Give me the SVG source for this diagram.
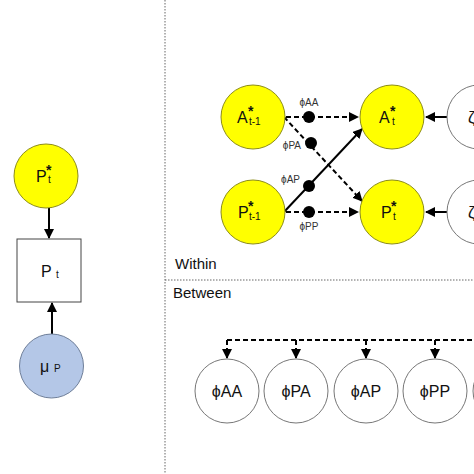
<svg xmlns="http://www.w3.org/2000/svg" width="474" height="474" viewBox="0 0 474 474">
<defs>
<marker id="ah" viewBox="0 0 10 10" refX="9" refY="5" markerWidth="5" markerHeight="5" orient="auto"><path d="M0,0 L10,5 L0,10 z" fill="#000"/></marker>
</defs>
<style>
text{font-family:"Liberation Sans",Arial,sans-serif;fill:#111}
.y{fill:#ffff00;stroke:#8c8c1a;stroke-width:1}
.w{fill:#fff;stroke:#777;stroke-width:1}
.sep{stroke:#666;stroke-width:1;stroke-dasharray:1.5,1.5;fill:none}
.sol{stroke:#000;stroke-width:2;fill:none}
.dsh{stroke:#000;stroke-width:2;fill:none;stroke-dasharray:5,3}
.big{font-size:16px}
.sm{font-size:10px}
.st{font-size:14px;font-weight:bold}
.lab{font-size:10px;fill:#333}
</style>
<rect width="474" height="474" fill="#fff"/>
<g id="separators">
<line class="sep" x1="165" y1="0" x2="165" y2="474"/>
<line class="sep" x1="165" y1="280" x2="474" y2="280"/>
</g>
<text x="175" y="269" style="font-size:15px">Within</text>
<text x="173" y="298" style="font-size:15px">Between</text>
<g id="connectors">
<line class="sol" x1="49" y1="208" x2="49" y2="238" marker-end="url(#ah)"/>
<line class="sol" x1="52" y1="334" x2="52" y2="303" marker-end="url(#ah)"/>
<line class="dsh" x1="286" y1="117" x2="358" y2="117" marker-end="url(#ah)"/>
<line class="dsh" x1="284" y1="117" x2="362" y2="201" marker-end="url(#ah)"/>
<line class="sol" x1="284" y1="212" x2="362" y2="129" marker-end="url(#ah)"/>
<line class="dsh" x1="286" y1="212" x2="358" y2="212" marker-end="url(#ah)"/>
<line class="sol" x1="447" y1="117" x2="426" y2="117" marker-end="url(#ah)"/>
<line class="sol" x1="447" y1="212" x2="426" y2="212" marker-end="url(#ah)"/>
<polyline class="dsh" points="227,340 474,340"/>
<line class="dsh" x1="227" y1="340" x2="227" y2="358" marker-end="url(#ah)"/>
<line class="dsh" x1="296" y1="340" x2="296" y2="358" marker-end="url(#ah)"/>
<line class="dsh" x1="366" y1="340" x2="366" y2="358" marker-end="url(#ah)"/>
<line class="dsh" x1="435" y1="340" x2="435" y2="358" marker-end="url(#ah)"/>
<circle cx="309" cy="117" r="6" fill="#000"/>
<circle cx="311" cy="143" r="6" fill="#000"/>
<circle cx="309" cy="186" r="6" fill="#000"/>
<circle cx="309" cy="212" r="6" fill="#000"/>
<text class="lab" x="309" y="106" text-anchor="middle">ϕAA</text>
<text class="lab" x="301" y="149" text-anchor="end">ϕPA</text>
<text class="lab" x="300" y="183" text-anchor="end">ϕAP</text>
<text class="lab" x="309" y="230" text-anchor="middle">ϕPP</text>
</g>
<g id="Pstar_left">
<circle class="y" cx="46" cy="176" r="32"/>
<text class="big" x="36" y="182">P<tspan class="st" x="46" y="175">*</tspan><tspan class="sm" x="48" y="183">t</tspan></text>
</g>
<g id="P_box">
<rect x="17" y="239" width="64" height="63" fill="#fff" stroke="#444" stroke-width="1"/>
<text class="big" x="41" y="277">P<tspan class="sm" x="56" y="278">t</tspan></text>
</g>
<g id="mu_P">
<circle cx="51.5" cy="366" r="32" fill="#b4c7e7" stroke="#6f7f99" stroke-width="1"/>
<text class="big" x="40" y="372">μ<tspan class="sm" x="54" y="372">P</tspan></text>
</g>
<g id="Astar_tm1">
<circle class="y" cx="253" cy="117" r="32"/>
<text class="big" x="237" y="123">A<tspan class="st" x="248" y="116">*</tspan><tspan class="sm" x="249" y="125">t-1</tspan></text>
</g>
<g id="Astar_t">
<circle class="y" cx="392" cy="117" r="32"/>
<text class="big" x="379" y="123">A<tspan class="st" x="390" y="116">*</tspan><tspan class="sm" x="392" y="125">t</tspan></text>
</g>
<g id="Pstar_tm1">
<circle class="y" cx="253" cy="212" r="32"/>
<text class="big" x="238" y="218">P<tspan class="st" x="248" y="211">*</tspan><tspan class="sm" x="249" y="220">t-1</tspan></text>
</g>
<g id="Pstar_t">
<circle class="y" cx="392" cy="212" r="32"/>
<text class="big" x="381" y="218">P<tspan class="st" x="391" y="211">*</tspan><tspan class="sm" x="393" y="220">t</tspan></text>
</g>
<g id="zeta_A">
<circle class="w" cx="479" cy="117" r="32"/>
<text class="big" x="468" y="123">ζ</text>
</g>
<g id="zeta_P">
<circle class="w" cx="479" cy="212" r="32"/>
<text class="big" x="468" y="218">ζ</text>
</g>
<g id="phiAA"><circle class="w" cx="227" cy="391" r="32"/><text class="big" x="227" y="397" text-anchor="middle">ϕAA</text></g>
<g id="phiPA"><circle class="w" cx="296" cy="391" r="32"/><text class="big" x="296" y="397" text-anchor="middle">ϕPA</text></g>
<g id="phiAP"><circle class="w" cx="366" cy="391" r="32"/><text class="big" x="366" y="397" text-anchor="middle">ϕAP</text></g>
<g id="phiPP"><circle class="w" cx="435" cy="391" r="32"/><text class="big" x="435" y="397" text-anchor="middle">ϕPP</text></g>
<g id="next"><circle class="w" cx="505" cy="391" r="32"/></g>
</svg>
